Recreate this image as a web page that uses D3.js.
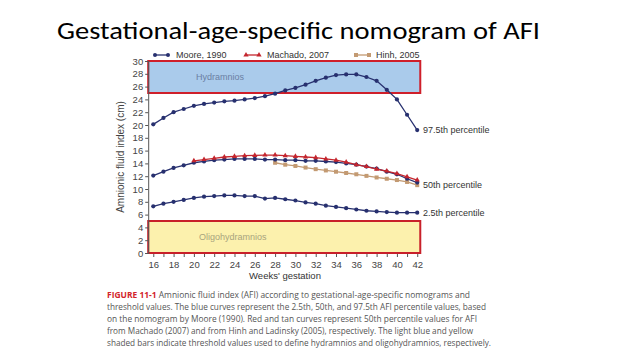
<!DOCTYPE html>
<html><head><meta charset="utf-8">
<script src="https://cdn.jsdelivr.net/npm/d3@7"></script>
<style>html,body{margin:0;padding:0;background:#fff;}svg{display:block;}</style>
</head><body>
<script>
const weeks = d3.range(16, 43);
const moore975 = [20.1,21.1,22.0,22.5,23.0,23.3,23.5,23.7,23.8,24.0,24.2,24.5,24.9,25.4,25.8,26.3,26.9,27.4,27.8,27.9,27.9,27.5,26.9,25.5,24.0,21.6,19.2];
const moore50 = [12.1,12.7,13.3,13.7,14.1,14.3,14.5,14.6,14.7,14.7,14.7,14.6,14.6,14.5,14.5,14.4,14.4,14.3,14.2,14.0,13.8,13.5,13.2,12.7,12.3,11.6,11.0];
const moore25 = [7.3,7.7,8.0,8.3,8.6,8.8,8.9,9.0,9.0,8.9,8.9,8.5,8.6,8.4,8.2,7.9,7.7,7.4,7.2,7.0,6.8,6.6,6.5,6.4,6.3,6.3,6.3];
const machadoWeeks = d3.range(20, 43);
const machado50 = [14.4,14.6,14.8,15.0,15.1,15.2,15.25,15.3,15.3,15.2,15.1,15.0,14.9,14.7,14.5,14.2,13.8,13.5,13.1,12.8,12.4,11.9,11.4];
const hinhWeeks = d3.range(28, 43);
const hinh50 = [14.1,13.8,13.6,13.35,13.1,12.9,12.7,12.5,12.3,12.05,11.8,11.6,11.4,11.1,10.6];
const yTicks = d3.range(0, 31, 2);
const xTicks = d3.range(16, 43, 2);
const legendLabels = ["Moore, 1990", "Machado, 2007", "Hinh, 2005"];
const percentileLabels = ["97.5th percentile", "50th percentile", "2.5th percentile"];
const captionLines = [
  "Amnionic fluid index (AFI) according to gestational-age-specific nomograms and",
  "threshold values. The blue curves represent the 2.5th, 50th, and 97.5th AFI percentile values, based",
  "on the nomogram by Moore (1990). Red and tan curves represent 50th percentile values for AFI",
  "from Machado (2007) and from Hinh and Ladinsky (2005), respectively. The light blue and yellow",
  "shaded bars indicate threshold values used to define hydramnios and oligohydramnios, respectively."
];

const W = 638, H = 359;
const svg = d3.select("body").append("svg").attr("width", W).attr("height", H);
const navy = "#27306f", red = "#c4262e", tan = "#c39a72";
const sans = "Arial, 'Liberation Sans', sans-serif";

svg.append("text").attr("x", 57).attr("y", 39)
  .attr("font-family", "Carlito, 'Open Sans', Lato, sans-serif").attr("font-size", 25.5)
  .attr("textLength", 483).attr("lengthAdjust", "spacingAndGlyphs")
  .attr("fill", "#000").text("Gestational-age-specific nomogram of AFI");

const x = d3.scaleLinear().domain([15.5, 42.5]).range([148.2, 422.3]);
const y = d3.scaleLinear().domain([0, 30]).range([253, 61]);

// boxes
svg.append("rect").attr("x", x(15.5)).attr("y", y(30)).attr("width", x(42.3) - x(15.5)).attr("height", y(25) - y(30))
  .attr("fill", "#aacbeb").attr("stroke", "#cf1f2a").attr("stroke-width", 2);
svg.append("rect").attr("x", x(15.5)).attr("y", y(5)).attr("width", x(42.3) - x(15.5)).attr("height", y(0) - y(5))
  .attr("fill", "#fcf1ad").attr("stroke", "#c8202a").attr("stroke-width", 2);
svg.append("text").attr("x", 196).attr("y", 80).attr("font-family", sans)
  .attr("font-size", 9).attr("fill", "#6a7fa3").text("Hydramnios");
svg.append("text").attr("x", 199).attr("y", 240).attr("font-family", sans)
  .attr("font-size", 9).attr("fill", "#a8a47e").text("Oligohydramnios");

// axes
const yAxis = d3.axisLeft(y).tickValues(yTicks).tickSize(3).tickPadding(2);
const gy = svg.append("g").attr("transform", `translate(${x(15.5)},0)`).call(yAxis);
gy.select(".domain").attr("stroke", "#555");
gy.selectAll(".tick line").attr("stroke", "#555");
gy.selectAll("text").attr("font-family", sans).attr("font-size", 9.5).attr("fill", "#444");

const xAxis = d3.axisBottom(x).tickValues(d3.range(16, 43)).tickSize(3).tickPadding(4)
  .tickFormat(d => xTicks.includes(d) ? d : "");
const gx = svg.append("g").attr("transform", `translate(0,${y(0) + 1})`).call(xAxis);
gx.select(".domain").remove();
gx.selectAll(".tick line").attr("stroke", "#555");
gx.selectAll("text").attr("font-family", sans).attr("font-size", 9.5).attr("fill", "#444");

svg.append("text").attr("x", 285).attr("y", 279).attr("text-anchor", "middle")
  .attr("font-family", sans).attr("font-size", 9.5).attr("fill", "#333").text("Weeks' gestation");
svg.append("text").attr("transform", `translate(124,${y(15)}) rotate(-90)`).attr("text-anchor", "middle")
  .attr("font-family", sans).attr("font-size", 10).attr("fill", "#444").text("Amnionic fluid index (cm)");

const line = d3.line().x(d => x(d[0])).y(d => y(d[1]));
function series(ws, vals, color, shape) {
  const data = ws.map((w, i) => [w, vals[i]]);
  svg.append("path").datum(data).attr("d", line).attr("fill", "none").attr("stroke", color).attr("stroke-width", 1.3);
  const g = svg.append("g");
  data.forEach(d => {
    if (shape === "circle") g.append("circle").attr("cx", x(d[0])).attr("cy", y(d[1])).attr("r", 2.1).attr("fill", color);
    else if (shape === "square") g.append("rect").attr("x", x(d[0]) - 2).attr("y", y(d[1]) - 2).attr("width", 4).attr("height", 4).attr("fill", color);
    else g.append("path").attr("d", d3.symbol(d3.symbolTriangle, 12)()).attr("transform", `translate(${x(d[0])},${y(d[1])})`).attr("fill", color);
  });
}
series(hinhWeeks, hinh50, tan, "square");
series(weeks, moore50, navy, "circle");
series(machadoWeeks, machado50, red, "tri");
series(weeks, moore975, navy, "circle");
series(weeks, moore25, navy, "circle");

const lastVals = [moore975[moore975.length - 1], moore50[moore50.length - 1] - 0.3, moore25[moore25.length - 1]];
percentileLabels.forEach((t, i) => {
  svg.append("text").attr("x", 423).attr("y", y(lastVals[i])).attr("dy", "0.35em")
    .attr("font-family", sans).attr("font-size", 9).attr("fill", "#333").text(t);
});

// legend
const legX = [155, 246, 356], legTx = [176, 267, 376], legColors = [navy, red, tan], legShapes = ["circle", "tri", "square"];
legendLabels.forEach((t, i) => {
  const ly = 55;
  svg.append("line").attr("x1", legX[i]).attr("x2", legX[i] + 13).attr("y1", ly).attr("y2", ly).attr("stroke", legColors[i]).attr("stroke-width", 1.3);
  [legX[i], legX[i] + 13].forEach(px => {
    if (legShapes[i] === "circle") svg.append("circle").attr("cx", px).attr("cy", ly).attr("r", 2).attr("fill", legColors[i]);
    else if (legShapes[i] === "square") svg.append("rect").attr("x", px - 2).attr("y", ly - 2).attr("width", 4).attr("height", 4).attr("fill", legColors[i]);
    else svg.append("path").attr("d", d3.symbol(d3.symbolTriangle, 12)()).attr("transform", `translate(${px},${ly})`).attr("fill", legColors[i]);
  });
  svg.append("text").attr("x", legTx[i]).attr("y", ly).attr("dy", "0.35em")
    .attr("font-family", sans).attr("font-size", 9).attr("fill", "#333").text(t);
});

// caption
const cap = svg.append("g").attr("font-family", "'Open Sans', Lato, sans-serif").attr("font-size", 8.5);
const capY = [298, 310, 322, 334, 346];
const capEnd = [470, 486, 477, 473, 491];
const t0 = cap.append("text").attr("x", 107).attr("y", capY[0]);
t0.append("tspan").attr("fill", "#d2232a").attr("font-weight", "bold").text("FIGURE 11-1 ");
t0.append("tspan").attr("fill", "#555").text(captionLines[0]);
captionLines.forEach((l, i) => {
  if (i === 0) return;
  cap.append("text").attr("x", 107).attr("y", capY[i]).attr("fill", "#555")
    .attr("textLength", capEnd[i] - 107).attr("lengthAdjust", "spacingAndGlyphs").text(l);
});
t0.attr("textLength", capEnd[0] - 107).attr("lengthAdjust", "spacingAndGlyphs");
</script>
</body></html>
